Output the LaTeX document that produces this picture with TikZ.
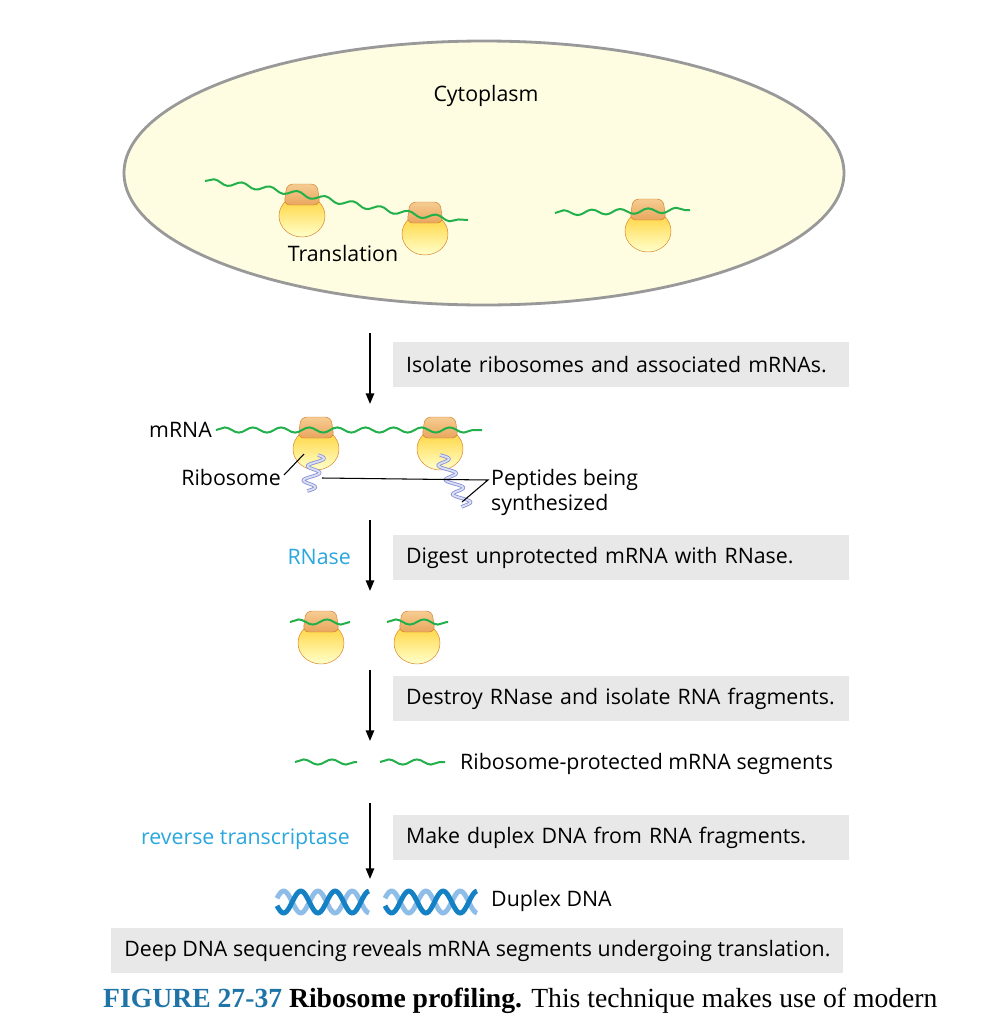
\documentclass[tikz,border=0pt]{standalone}
\usepackage{fontspec}
\setmainfont{Liberation Serif}
\newfontfamily\lab{Open Sans}
\usetikzlibrary{decorations.pathmorphing,arrows.meta}
\definecolor{mgreen}{HTML}{22B04B}
\definecolor{boxg}{HTML}{E8E8E8}
\definecolor{cyt}{HTML}{FEFDE2}
\definecolor{rnase}{HTML}{2AA7DF}
\definecolor{capblue}{HTML}{1E74A6}
\definecolor{dnad}{HTML}{1581C5}
\definecolor{dnal}{HTML}{8EBDE8}
\definecolor{rorange}{HTML}{E9A65E}
\definecolor{rorangel}{HTML}{F6CC92}
\definecolor{pepc}{HTML}{B9CBE6}
\tikzset{
 lbl/.style={font=\lab\fontsize{18.2}{21}\selectfont, inner sep=0pt, anchor=west},
 stepbox/.style={fill=boxg, minimum height=38pt, inner sep=0pt, anchor=north west, text width=#1, align=left},
 flow/.style={-{Triangle[length=9pt,width=7pt]}, line width=1.6pt},
 rna/.style={mgreen, line width=1.7pt, decorate, decoration={snake, segment length=24pt, amplitude=2.2pt}},
 ribo/.pic={
   \draw[draw=brown!60!orange, line width=0.4pt, top color=yellow!55!orange!80, bottom color=yellow!20] (0,32) ellipse [x radius=23, y radius=21];
   \draw[brown!70!orange, line width=0.4pt, top color=rorangel, bottom color=rorange, rounded corners=5pt] (-15,0) -- (15,0) -- (18,21) -- (-18,21) -- cycle;
 },
 pep/.style={draw=gray!50!blue!60, line width=3pt},
}
\begin{document}
\begin{tikzpicture}[x=0.03cm,y=-0.03cm]
\useasboundingbox (0,0) rectangle (998,1024);
\fill[white] (0,0) rectangle (998,1024);
% cell
\draw[gray!80, line width=2.4pt, fill=cyt] (484,173) ellipse [x radius=360, y radius=132];
\node[lbl, anchor=center] (cyto) at (486,96) {Cytoplasm};
\pic at (302,184) {ribo};
\pic at (425,202) {ribo};
\pic at (648,199) {ribo};
\draw[rna] (205,181) .. controls (300,190) and (380,215) .. (468,220);
\draw[rna] (555,213) -- (690,210);
\node[lbl, anchor=center] (trans) at (343,253) {Translation};
% step 1
\coordinate (a1s) at (370,333); \coordinate (a1e) at (370,404);
\draw[flow] (a1s) -- (a1e);
\node[stepbox=389pt, lbl, anchor=north west] (b1) at (393,342) {\hspace*{11pt}Isolate ribosomes and associated mRNAs.};
% mRNA with ribosomes
\node[lbl, anchor=east] (mrna) at (212,430) {mRNA};
\pic at (316,417) {ribo};
\pic at (440,417) {ribo};
\draw[rna] (216,430) -- (482,430);
\foreach \px/\py/\dx/\len in {318/455/-0.012/900, 440/455/0.02/1300}{
  \draw[pep] plot[domain=0:\len, samples=120, smooth] ({\px+7*sin(\x)+\dx*\x}, {\py+0.04*\x});
  \draw[pepc!60!white, line width=1.6pt] plot[domain=0:\len, samples=120, smooth] ({\px+7*sin(\x)+\dx*\x}, {\py+0.04*\x});
}
\node[lbl, anchor=east] (ribl) at (281,477) {Ribosome};
\coordinate (rt) at (304,454);
\draw[line width=0.9pt] (ribl.east) ++(3,-2) -- (rt);
\node[lbl, anchor=north west, align=left] (pepl) at (491,469) {Peptides being\\synthesized};
\coordinate (p1) at (322,478); \coordinate (p2) at (462,502); \coordinate (pj) at (488,480);
\draw[line width=0.9pt] (p1) -- (pj) -- (p2);
% step 2
\coordinate (a2s) at (370,520); \coordinate (a2e) at (370,591);
\draw[flow] (a2s) -- (a2e);
\node[lbl, anchor=east, text=rnase] (rn) at (351,557) {RNase};
\node[stepbox=389pt, lbl, anchor=north west] (b2) at (393,535) {\hspace*{11pt}Digest unprotected mRNA with RNase.};
\pic at (321,611) {ribo};
\pic at (417,611) {ribo};
\draw[rna] (290,622) -- (350,622);
\draw[rna] (387,622) -- (448,622);
% step 3
\coordinate (a3s) at (370,670); \coordinate (a3e) at (370,741);
\draw[flow] (a3s) -- (a3e);
\node[stepbox=389pt, lbl, anchor=north west] (b3) at (393,676) {\hspace*{11pt}Destroy RNase and isolate RNA fragments.};
\draw[rna] (295,762) -- (357,762);
\draw[rna] (380,762) -- (445,762);
\node[lbl] (rps) at (460,764) {Ribosome-protected mRNA segments};
% step 4
\coordinate (a4s) at (370,803); \coordinate (a4e) at (370,879);
\draw[flow] (a4s) -- (a4e);
\node[lbl, anchor=east, text=rnase] (rt2) at (350,839) {reverse transcriptase};
\node[stepbox=389pt, lbl, anchor=north west] (b4) at (393,815) {\hspace*{11pt}Make duplex DNA from RNA fragments.};
% DNA
\foreach \xo in {277,385}{
  \draw[dnal, line width=4.2pt] plot[domain=0:92, samples=60, smooth] ({\xo+\x}, {902+11*sin(\x*10.5+200)});
  \draw[dnad, line width=4.2pt] plot[domain=0:92, samples=60, smooth] ({\xo+\x}, {902+11*sin(\x*10.5+20)});
}
\node[lbl] (dd) at (491,901) {Duplex DNA};
\node[fill=boxg, anchor=north west, minimum width=625pt, minimum height=38pt, inner sep=0pt] (b5) at (111,928) {};
\node[lbl, anchor=center] (b5t) at (b5.center) {Deep DNA sequencing reveals mRNA segments undergoing translation.};
% caption
\node[anchor=west, inner sep=0pt, font=\fontsize{23.6}{26}\selectfont] (cap) at (103,1001) {\textbf{\textcolor{capblue}{FIGURE 27-37}} \textbf{Ribosome profiling.} This technique makes use of modern};
\end{tikzpicture}
\end{document}
